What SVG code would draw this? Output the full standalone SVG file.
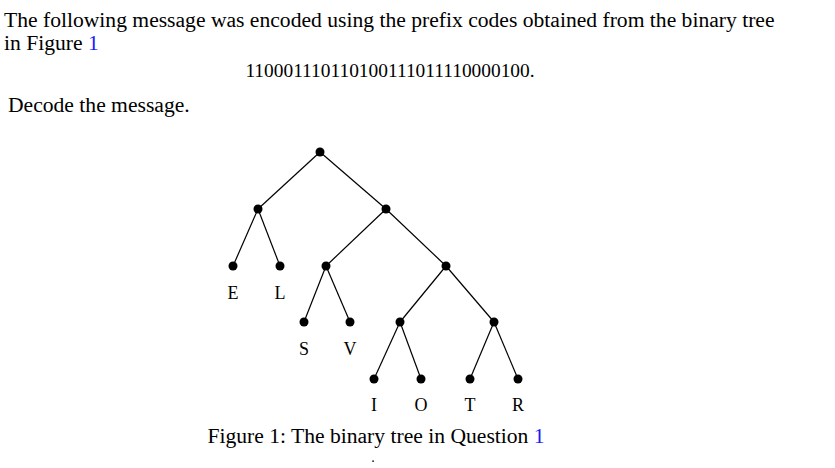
<svg xmlns="http://www.w3.org/2000/svg" width="835" height="468" viewBox="0 0 835 468">
<style>
text{font-family:"Liberation Serif",serif;fill:#000}
.t{font-size:21.6px}
.l{font-size:18px;text-anchor:middle}
.e line{stroke:#000;stroke-width:1.2}
circle{fill:#000}
.b{fill:#1a1aff}
</style>
<rect width="835" height="468" fill="#fff"/>
<text class="t" x="4" y="27">The following message was encoded using the prefix codes obtained from the binary tree</text>
<text class="t" x="4" y="50">in Figure <tspan class="b">1</tspan></text>
<text x="390" y="77" font-size="19.4" text-anchor="middle">110001110110100111011110000100.</text>
<text class="t" x="8" y="112">Decode the message.</text>
<g id="edges" class="e">
<line x1="320" y1="152" x2="258" y2="209"/><line x1="320" y1="152" x2="386" y2="209"/>
<line x1="258" y1="209" x2="233" y2="266"/><line x1="258" y1="209" x2="280" y2="266"/>
<line x1="386" y1="209" x2="326" y2="266"/><line x1="386" y1="209" x2="446" y2="266"/>
<line x1="326" y1="266" x2="304" y2="322"/><line x1="326" y1="266" x2="350" y2="322"/>
<line x1="446" y1="266" x2="400" y2="322"/><line x1="446" y1="266" x2="494" y2="322"/>
<line x1="400" y1="322" x2="374" y2="379"/><line x1="400" y1="322" x2="421" y2="379"/>
<line x1="494" y1="322" x2="470" y2="379"/><line x1="494" y1="322" x2="518" y2="379"/>
</g>
<g id="root"><circle cx="320" cy="152" r="4.5"/></g>
<g id="n1"><circle cx="258" cy="209" r="4.5"/></g>
<g id="n2"><circle cx="386" cy="209" r="4.5"/></g>
<g id="n3"><circle cx="326" cy="266" r="4.5"/></g>
<g id="n4"><circle cx="446" cy="266" r="4.5"/></g>
<g id="n5"><circle cx="400" cy="322" r="4.5"/></g>
<g id="n6"><circle cx="494" cy="322" r="4.5"/></g>
<g id="E"><circle cx="233" cy="266" r="4.5"/><text class="l" x="233" y="299">E</text></g>
<g id="L"><circle cx="280" cy="266" r="4.5"/><text class="l" x="280" y="299">L</text></g>
<g id="S"><circle cx="304" cy="322" r="4.5"/><text class="l" x="304" y="355">S</text></g>
<g id="V"><circle cx="350" cy="322" r="4.5"/><text class="l" x="350" y="355">V</text></g>
<g id="I"><circle cx="374" cy="379" r="4.5"/><text class="l" x="374" y="411">I</text></g>
<g id="O"><circle cx="421" cy="379" r="4.5"/><text class="l" x="421" y="411">O</text></g>
<g id="T"><circle cx="470" cy="379" r="4.5"/><text class="l" x="470" y="411">T</text></g>
<g id="R"><circle cx="518" cy="379" r="4.5"/><text class="l" x="518" y="411">R</text></g>
<text class="t" x="376" y="443" text-anchor="middle">Figure 1: The binary tree in Question <tspan class="b">1</tspan></text>
<text x="373" y="462" font-size="14" text-anchor="middle">.</text>
</svg>
